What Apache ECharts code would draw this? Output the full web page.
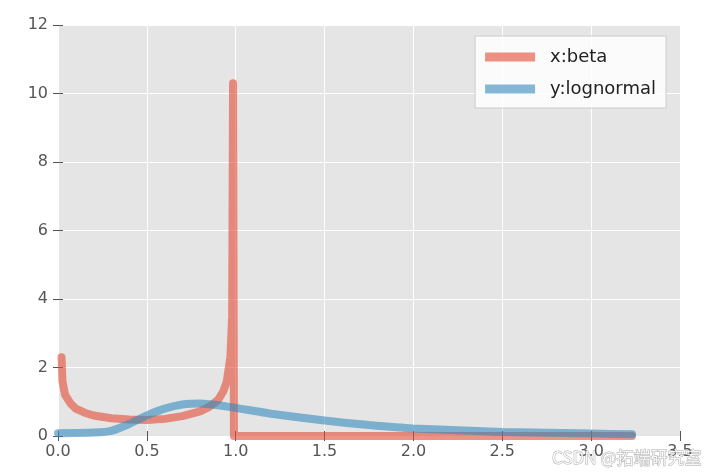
<!DOCTYPE html>
<html>
<head>
    <meta charset="UTF-8">
    <title>beta / lognormal</title>
    <script src="https://cdn.jsdelivr.net/npm/echarts@6/dist/echarts.min.js"></script>
</head>
<body style="margin:0">
    <div id="chart" style="width:720px; height:473px;"></div>
    <script>
        // values
        var betaPts = [[0.02,2.3],[0.025,1.6],[0.04,1.2],[0.07,0.95],[0.1,0.8],[0.15,0.68],[0.2,0.6],[0.3,0.52],
            [0.4,0.48],[0.5,0.47],[0.6,0.5],[0.7,0.58],[0.8,0.72],[0.85,0.85],[0.9,1.05],[0.93,1.3],
            [0.95,1.6],[0.97,2.3],[0.98,3.5],[0.985,10.3],[0.99,0],[3.23,0]];
        var lognormPts = [[0,0.08],[0.2,0.1],[0.3,0.15],[0.4,0.35],[0.5,0.6],[0.6,0.8],[0.7,0.92],[0.8,0.95],
            [0.9,0.9],[1.0,0.82],[1.2,0.65],[1.5,0.45],[1.75,0.32],[2.0,0.22],[2.5,0.12],[3.0,0.07],[3.23,0.05]];
        var seriesNames = ['x:beta', 'y:lognormal'];

        var chart = echarts.init(document.getElementById('chart'), null, {renderer: 'canvas'});
        var tick = {show: true, inside: false, length: 5, lineStyle: {color: '#555'}};
        var lab = {color: '#555', fontSize: 16, fontFamily: 'DejaVu Sans'};
        chart.setOption({
            animation: false,
            grid: {left: 58, right: 40, top: 25, bottom: 37, show: true, backgroundColor: '#E5E5E5', borderWidth: 0},
            legend: {
                right: 54, top: 36, orient: 'vertical', itemWidth: 50, itemHeight: 9, itemGap: 14,
                backgroundColor: 'rgba(255,255,255,0.85)', borderColor: '#ccc', borderWidth: 1,
                padding: [12, 10, 10, 10], icon: 'rect',
                textStyle: {fontSize: 18, color: '#222', fontFamily: 'DejaVu Sans', padding: [0, 0, 0, 10]},
                data: seriesNames
            },
            xAxis: [
                {type: 'value', min: 0, max: 3.5, interval: 0.5, axisLine: {show: false}, axisTick: tick,
                    axisLabel: Object.assign({formatter: function (v) { return v.toFixed(1); }, margin: 8}, lab),
                    splitLine: {lineStyle: {color: '#fff', width: 1}}},
                {type: 'value', position: 'top', min: 0, max: 3.5, interval: 0.5, axisLine: {show: false},
                    axisTick: tick, axisLabel: {show: false}, splitLine: {show: false}}
            ],
            yAxis: [
                {type: 'value', min: 0, max: 12, interval: 2, axisLine: {show: false}, axisTick: tick,
                    axisLabel: Object.assign({margin: 10}, lab),
                    splitLine: {lineStyle: {color: '#fff', width: 1}}},
                {type: 'value', position: 'right', min: 0, max: 12, interval: 2, axisLine: {show: false},
                    axisTick: tick, axisLabel: {show: false}, splitLine: {show: false}}
            ],
            series: [
                {name: seriesNames[0], type: 'line', data: betaPts, showSymbol: false, smooth: false,
                    color: 'rgba(226,74,51,0.6)', lineStyle: {width: 8, color: 'rgba(226,74,51,0.6)', join: 'round', cap: 'round'}},
                {name: seriesNames[1], type: 'line', data: lognormPts, showSymbol: false, smooth: 0.2,
                    color: 'rgba(52,138,189,0.6)', lineStyle: {width: 8, color: 'rgba(52,138,189,0.6)', cap: 'round'}}
            ],
            graphic: [{type: 'text', right: 18, bottom: 6, z: 100,
                style: {text: 'CSDN @拓端研究室', fontSize: 17, fill: 'rgba(255,255,255,0.85)',
                    stroke: 'rgba(120,120,120,0.6)', lineWidth: 1, fontFamily: 'Noto Sans CJK SC'}}]
        });
    </script>
</body>
</html>
